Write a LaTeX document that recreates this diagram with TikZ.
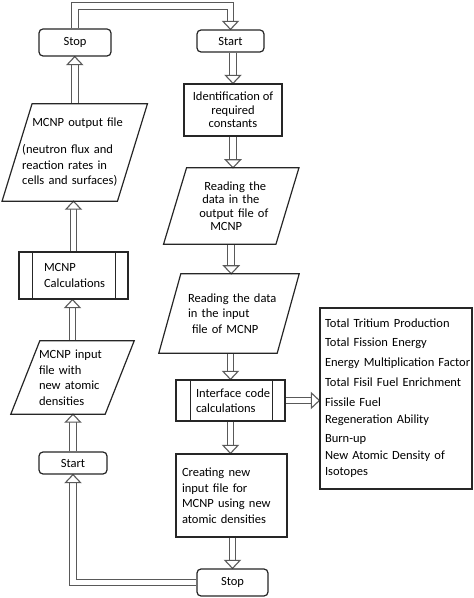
\documentclass[tikz,border=0pt]{standalone}
\usepackage{fontspec}
\setmainfont{Carlito}
\usetikzlibrary{calc,backgrounds}

\newcommand\dgfont{\fontsize{12.5}{15.5}\selectfont}
\newcommand\dgtight{\fontsize{12.5}{13.5}\selectfont}

% open triangular head: tip #1, pointing away from #2
\newcommand\hollowhead[2]{%
  \coordinate (hb) at ($(#1)!8pt!(#2)$);
  \draw[headst] (#1) -- ($(hb)!7.5pt!90:(#1)$) -- ($(hb)!7.5pt!-90:(#1)$) -- cycle;}
% straight double-line arrow from #1 to #2
\newcommand\hollowarrow[2]{%
  \coordinate (ha) at (#1);
  \coordinate (ht) at (#2);
  \coordinate (hs) at ($(ht)!8pt!(ha)$);
  \draw[shaft] (ha) -- (hs);
  \hollowhead{ht}{ha}}
% parallelogram frame around a named node
\newcommand\slantframe[2]{%
  \draw[frame] ([xshift=#2]#1.north west) -- ([xshift=#2]#1.north east)
    -- ([xshift=-#2]#1.south east) -- ([xshift=-#2]#1.south west) -- cycle;}
% side bars of a predefined-process box
\newcommand\sidebars[3]{%
  \draw[frame] ([xshift=#2]#1.north west) -- ([xshift=#2]#1.south west);
  \draw[frame] ([xshift=-#3]#1.north east) -- ([xshift=-#3]#1.south east);}

\tikzset{
  box/.style={draw=black!85, line width=1.2pt, fill=white, font=\dgfont, inner sep=0pt},
  term/.style={box, rounded corners=4pt, align=center},
  proc/.style={box, align=left},
  slantnode/.style={inner sep=0pt, font=\dgfont},
  frame/.style={draw=black!85, line width=1.2pt, line join=miter},
  shaft/.style={draw=black!65, line width=1.1pt, double=white, double distance=5.6pt, line join=miter},
  headst/.style={draw=black!65, line width=1.1pt, fill=white, line join=miter},
}

\begin{document}
\begin{tikzpicture}[x=1pt,y=1pt]
\useasboundingbox (0,0) rectangle (474,598);

% ---------- right column ----------
\node[term, minimum width=67pt, minimum height=22pt] (start1) at (230.5,557) {Start};
\node[box, align=center, font=\dgtight, minimum width=98pt, minimum height=52pt] (ident) at (233,488)
  {Identification of\\required\\constants};
\node[slantnode, align=left, font=\dgtight, inner xsep=24pt, text width=64pt, minimum height=76pt] (read1) at (231.25,392)
  {\mbox{\hspace{5pt}Reading the}\\\mbox{\hspace{3pt}data in the}\\\mbox{output file of}\\\mbox{\hspace{11pt}MCNP}};
\slantframe{read1}{11.5pt}
\node[slantnode, align=left, inner xsep=18pt, text width=82pt, minimum height=79pt] (read2) at (229,284.5)
  {\mbox{Reading the data}\\in the input\\\mbox{\hspace{4pt}file of MCNP}};
\slantframe{read2}{11pt}
\node[proc, inner xsep=20pt, text width=69pt, minimum height=41pt] (iface) at (230.5,197.5)
  {\mbox{Interface code}\\calculations};
\sidebars{iface}{15pt}{13pt}
\node[proc, inner xsep=6pt, text width=99pt, minimum height=83pt] (create) at (231.5,102.5)
  {Creating new\\input file for\\MCNP using new\\atomic densities};
\node[term, minimum width=71pt, minimum height=27pt] (stop2) at (232.5,15.5) {Stop};

% ---------- results ----------
\node[proc, inner xsep=5pt, text width=142pt, minimum height=181pt] (results) at (396,199.5)
  {Total Tritium Production\\[3.5pt]Total Fission Energy\\[4.5pt]\mbox{Energy Multiplication Factor}\\[4.5pt]%
   Total Fisil Fuel Enrichment\\[4.5pt]Fissile Fuel\\[1.5pt]Regeneration Ability\\[3.5pt]Burn-up\\[1.5pt]%
   New Atomic Density of\\[0.5pt]Isotopes};

% ---------- left column ----------
\node[term, minimum width=72pt, minimum height=27pt] (stop1) at (75,555.5) {Stop};
\node[slantnode, align=left, inner xsep=5pt, text width=105pt, minimum height=97pt] (outfile) at (74.75,445.5)
  {\mbox{\hspace{10pt}MCNP output file}\\[11.5pt](neutron flux and\\reaction rates in\\cells and surfaces)};
\slantframe{outfile}{15pt}
\node[proc, inner xsep=25pt, text width=59pt, minimum height=47pt] (calc) at (73.5,322.5)
  {MCNP\\\mbox{Calculations}};
\sidebars{calc}{14pt}{13pt}
\node[slantnode, align=left, inner xsep=13.5pt, text width=67pt, minimum height=73pt] (infile) at (72.5,220.5)
  {MCNP input\\file with\\new atomic\\densities};
\slantframe{infile}{14.5pt}
\node[term, minimum width=68pt, minimum height=22pt] (start2) at (73,135) {Start};

% ---------- connectors ----------
\begin{scope}[on background layer]
  \hollowarrow{ident.north |- start1.south}{ident.north}
  \hollowarrow{ident.south}{ident.south |- read1.north}
  \hollowarrow{read1.south}{read1.south |- read2.north}
  \hollowarrow{iface.north |- read2.south}{iface.north}
  \hollowarrow{iface.south}{iface.south |- create.north}
  \hollowarrow{stop2.north |- create.south}{stop2.north}
  \hollowarrow{iface.east}{iface.east -| results.west}

  \hollowarrow{outfile.north}{outfile.north |- stop1.south}
  \hollowarrow{calc.north}{calc.north |- outfile.south}
  \hollowarrow{infile.north}{infile.north |- calc.south}
  \hollowarrow{start2.north}{start2.north |- infile.south}

  % loop back from the left Stop to the right Start
  \coordinate (topL) at ($(stop1.north)+(0,22.5)$);
  \coordinate (topR) at (topL -| start1.north);
  \coordinate (topB) at ($(start1.north)+(0,8)$);
  \draw[shaft] (stop1.north) -- (topL) -- (topR) -- (topB);
  \hollowhead{start1.north}{topR}

  % loop back from the bottom Stop to the left Start
  \coordinate (botC) at (stop2.west -| start2.south);
  \coordinate (botB) at ($(start2.south)+(0,-8)$);
  \draw[shaft] (stop2.west) -- (botC) -- (botB);
  \hollowhead{start2.south}{botC}
\end{scope}
\end{tikzpicture}
\end{document}
